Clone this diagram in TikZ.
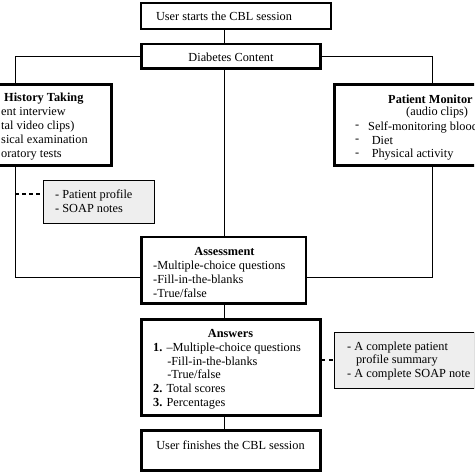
\documentclass[tikz,border=0pt]{standalone}
\usepackage{fontspec}
\setmainfont{Liberation Serif}
\tikzset{
	thickbox/.style={draw, line width=2.5pt, inner sep=0pt},
	greybox/.style={draw, line width=0.8pt, fill=gray!13, inner sep=0pt},
	txt/.style={inner sep=0pt, align=left},
	link/.style={line width=0.8pt},
	dlink/.style={line width=1pt, dash pattern=on 3pt off 3pt}
}
\begin{document}
\begin{tikzpicture}[x=0.03cm, y=-0.03cm, font=\fontsize{10.5}{11.9}\selectfont]
		\useasboundingbox (0,0) rectangle (474,474);
		\clip (0,0) rectangle (474,474);
		% boxes
		\node[thickbox, minimum width=190*0.03cm, minimum height=26*0.03cm] (start) at (236,16) {};
		\node[thickbox, minimum width=179*0.03cm, minimum height=24.5*0.03cm] (content) at (231,56.25) {};
		\node[thickbox, minimum width=151.5*0.03cm, minimum height=81*0.03cm] (history) at (36,125) {};
		\node[thickbox, minimum width=185.5*0.03cm, minimum height=81*0.03cm] (monitor) at (427.25,125) {};
		\node[thickbox, minimum width=164.5*0.03cm, minimum height=66.5*0.03cm] (assess) at (223.75,270.25) {};
		\node[thickbox, minimum width=179*0.03cm, minimum height=96*0.03cm] (answers) at (231,367.5) {};
		\node[thickbox, minimum width=179*0.03cm, minimum height=40*0.03cm] (finish) at (231,450.5) {};
		\node[greybox, minimum width=111*0.03cm, minimum height=43*0.03cm] (profile) at (98.5,202) {};
		\node[greybox, minimum width=140*0.03cm, minimum height=56*0.03cm] (summary) at (404,360) {};
		% texts
		\node[txt] (startT) at (224,16) {User starts the CBL session};
		\node[txt] (contentT) at (231,57) {Diabetes Content};
		\node[txt, anchor=west] (historyH) at (4,99) {\textbf{History Taking}};
		\node[txt, anchor=west] (historyT) at (1,134) {ent interview\\tal video clips)\\sical examination\\oratory tests};
		\node[txt, anchor=west] (monitorH) at (388,99) {\textbf{Patient Monitor}};
		\node[txt, anchor=west] (monitorA) at (406,113) {(audio clips)};
		\node[txt, anchor=west] (monitorD) at (355,141) {-\\-\\-};
		\node[txt, anchor=west] (monitorT) at (368,141) {Self-monitoring blood\\\hspace{3pt}Diet\\\hspace{3pt}Physical activity};
		\node[txt, anchor=west] (profileT) at (55,201) {- Patient profile\\- SOAP notes};
		\node[txt] (assessH) at (224.5,251) {\textbf{Assessment}};
		\node[txt, anchor=west] (assessT) at (153,279) {-Multiple-choice questions\\-Fill-in-the-blanks\\-True/false};
		\node[txt] (answersH) at (230.5,333) {\textbf{Answers}};
		\node[txt, anchor=west] (answersT) at (153,376) {\textbf{1.} --Multiple-choice questions\\\hspace{12pt}-Fill-in-the-blanks\\\hspace{12pt}-True/false\\\textbf{2.} Total scores\\\textbf{3.} Percentages};
		\node[txt, anchor=west] (summaryT) at (347,361) {- A complete patient\\\hspace{7.5pt}profile summary\\- A complete SOAP note};
		\node[txt] (finishT) at (230.5,445) {User finishes the CBL session};
		% connectors
		\coordinate (spine) at (224,0);
		\coordinate (lrail) at (15,0);
		\coordinate (rrail) at (432,0);
		\coordinate (join) at (224,277);
		\coordinate (pdash) at (0,194);
		\draw[link] (start.south -| spine) -- (content.north -| spine);
		\draw[link] (content.west) -| (lrail |- history.north);
		\draw[link] (content.east) -| (rrail |- monitor.north);
		\draw[link] (content.south -| spine) -- (assess.north -| spine);
		\draw[link] (lrail |- history.south) |- (join -| assess.west);
		\draw[link] (rrail |- monitor.south) |- (join -| assess.east);
		\draw[link] (assess.south -| spine) -- (answers.north -| spine);
		\draw[link] (answers.south -| spine) -- (finish.north -| spine);
		\draw[dlink] (lrail |- pdash) -- (profile.west |- pdash);
		\draw[dlink] (summary.west -| answers.east) -- (summary.west);
\end{tikzpicture}
\end{document}
